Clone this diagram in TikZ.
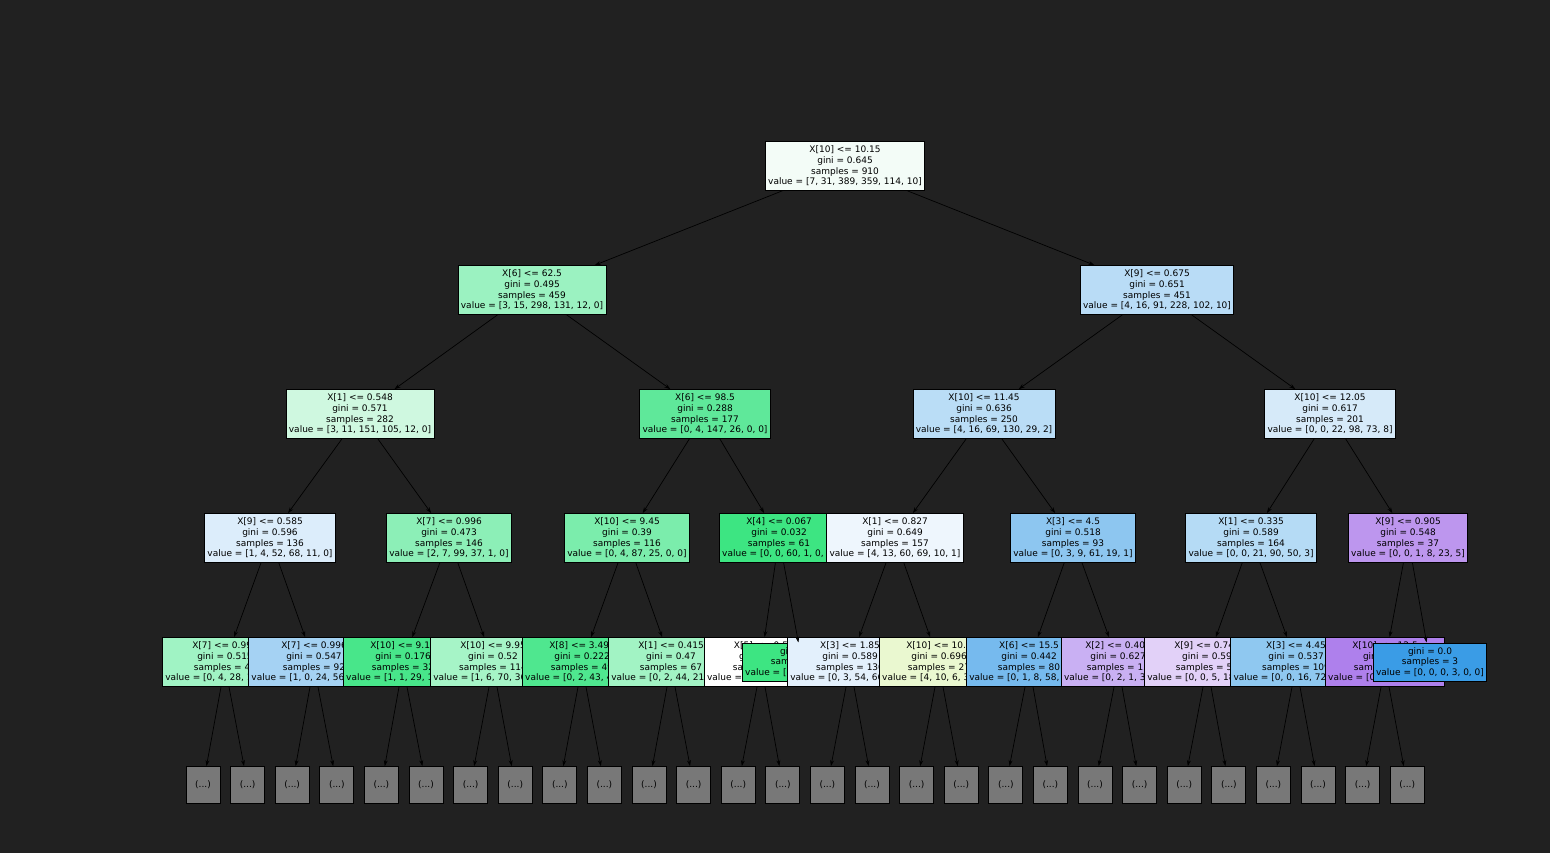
\documentclass[tikz,border=0pt]{standalone}
\usepackage{fontspec}
\setmainfont{DejaVu Sans}
\usetikzlibrary{arrows.meta}
\tikzset{
 tn/.style={draw=black,line width=0.4pt,inner xsep=1.4pt,inner ysep=2.2pt,align=center,font=\fontsize{4.5}{5.35}\selectfont,fill=#1},
 lf/.style={draw=black,line width=0.4pt,fill=lf,minimum width=17pt,minimum height=18.5pt,inner sep=0pt,font=\fontsize{4.5}{5}\selectfont},
 ar/.style={-{Stealth[length=3pt,width=2pt]},line width=0.35pt,black}
}
\definecolor{bg}{HTML}{212121}\definecolor{lf}{HTML}{787878}
\newcommand{\TN}[5]{\node[tn=#4] (#1) at (#2,#3) {#5};}
\begin{document}
\begin{tikzpicture}[x=0.5pt,y=-0.5pt]
\fill[bg] (0,0) rectangle (1550,853);
\useasboundingbox (0,0) rectangle (1550,853);
\definecolor{c0}{HTML}{F3FCF7}
\definecolor{c1}{HTML}{9BF2C1}\definecolor{c2}{HTML}{B9DCF6}
\definecolor{c3}{HTML}{CFF8E0}\definecolor{c4}{HTML}{5FE89A}\definecolor{c5}{HTML}{BADDF6}\definecolor{c6}{HTML}{D6EAF9}
\definecolor{d1}{HTML}{DCEDFB}\definecolor{d2}{HTML}{8CEFB7}\definecolor{d3}{HTML}{7BEDAC}\definecolor{d4}{HTML}{3DE582}
\definecolor{d5}{HTML}{EEF6FD}\definecolor{d6}{HTML}{8DC6F0}\definecolor{d7}{HTML}{B5DBF5}\definecolor{d8}{HTML}{BD96EE}
\definecolor{e1}{HTML}{A0F3C4}\definecolor{e2}{HTML}{A5D2F3}\definecolor{e3}{HTML}{48E68A}\definecolor{e4}{HTML}{A6F4C7}
\definecolor{e5}{HTML}{4FE78F}\definecolor{e6}{HTML}{A2F3C4}\definecolor{e7}{HTML}{FFFFFF}\definecolor{e8}{HTML}{3DE582}
\definecolor{e9}{HTML}{E3F0FC}\definecolor{e10}{HTML}{EAF8D0}\definecolor{e11}{HTML}{76BAEE}\definecolor{e12}{HTML}{C9B0F3}
\definecolor{e13}{HTML}{E2D1F8}\definecolor{e14}{HTML}{8FC8F0}\definecolor{e15}{HTML}{AE80EC}\definecolor{e16}{HTML}{3A9CE6}
% level 0
\TN{r}{845}{166}{c0}{X[10] <= 10.15\\gini = 0.645\\samples = 910\\value = [7, 31, 389, 359, 114, 10]}
% level 1
\TN{a}{532}{290}{c1}{X[6] <= 62.5\\gini = 0.495\\samples = 459\\value = [3, 15, 298, 131, 12, 0]}
\TN{b}{1157}{290}{c2}{X[9] <= 0.675\\gini = 0.651\\samples = 451\\value = [4, 16, 91, 228, 102, 10]}
% level 2
\TN{aa}{360}{414}{c3}{X[1] <= 0.548\\gini = 0.571\\samples = 282\\value = [3, 11, 151, 105, 12, 0]}
\TN{ab}{705}{414}{c4}{X[6] <= 98.5\\gini = 0.288\\samples = 177\\value = [0, 4, 147, 26, 0, 0]}
\TN{ba}{984}{414}{c5}{X[10] <= 11.45\\gini = 0.636\\samples = 250\\value = [4, 16, 69, 130, 29, 2]}
\TN{bb}{1330}{414}{c6}{X[10] <= 12.05\\gini = 0.617\\samples = 201\\value = [0, 0, 22, 98, 73, 8]}
% level 3
\TN{n1}{270}{538}{d1}{X[9] <= 0.585\\gini = 0.596\\samples = 136\\value = [1, 4, 52, 68, 11, 0]}
\TN{n2}{449}{538}{d2}{X[7] <= 0.996\\gini = 0.473\\samples = 146\\value = [2, 7, 99, 37, 1, 0]}
\TN{n3}{627}{538}{d3}{X[10] <= 9.45\\gini = 0.39\\samples = 116\\value = [0, 4, 87, 25, 0, 0]}
\TN{n4}{779}{538}{d4}{X[4] <= 0.067\\gini = 0.032\\samples = 61\\value = [0, 0, 60, 1, 0, 0]}
\TN{n5}{895}{538}{d5}{X[1] <= 0.827\\gini = 0.649\\samples = 157\\value = [4, 13, 60, 69, 10, 1]}
\TN{n6}{1073}{538}{d6}{X[3] <= 4.5\\gini = 0.518\\samples = 93\\value = [0, 3, 9, 61, 19, 1]}
\TN{n7}{1251}{538}{d7}{X[1] <= 0.335\\gini = 0.589\\samples = 164\\value = [0, 0, 21, 90, 50, 3]}
\TN{n8}{1408}{538}{d8}{X[9] <= 0.905\\gini = 0.548\\samples = 37\\value = [0, 0, 1, 8, 23, 5]}
% level 4
\TN{m1}{225}{662}{e1}{X[7] <= 0.995\\gini = 0.515\\samples = 44\\value = [0, 4, 28, 12, 0, 0]}
\TN{m2}{314}{662}{e2}{X[7] <= 0.996\\gini = 0.547\\samples = 92\\value = [1, 0, 24, 56, 11, 0]}
\TN{m3}{403}{662}{e3}{X[10] <= 9.15\\gini = 0.176\\samples = 32\\value = [1, 1, 29, 1, 0, 0]}
\TN{m4}{493}{662}{e4}{X[10] <= 9.95\\gini = 0.52\\samples = 114\\value = [1, 6, 70, 36, 1, 0]}
\TN{m5}{582}{662}{e5}{X[8] <= 3.495\\gini = 0.222\\samples = 49\\value = [0, 2, 43, 4, 0, 0]}
\TN{m6}{671}{662}{e6}{X[1] <= 0.415\\gini = 0.47\\samples = 67\\value = [0, 2, 44, 21, 0, 0]}
\TN{m7}{761}{662}{e7}{X[5] <= 0.5\\gini = 0.5\\samples = 2\\value = [0, 0, 1, 1, 0, 0]}
\TN{m8}{802}{662}{e8}{gini = 0.0\\samples = 59\\value = [0, 0, 59, 0, 0, 0]}
\TN{m9}{850}{662}{e9}{X[3] <= 1.85\\gini = 0.589\\samples = 130\\value = [0, 3, 54, 66, 7, 0]}
\TN{m10}{939}{662}{e10}{X[10] <= 10.5\\gini = 0.696\\samples = 27\\value = [4, 10, 6, 3, 3, 1]}
\TN{m11}{1029}{662}{e11}{X[6] <= 15.5\\gini = 0.442\\samples = 80\\value = [0, 1, 8, 58, 13, 0]}
\TN{m12}{1118}{662}{e12}{X[2] <= 0.405\\gini = 0.627\\samples = 13\\value = [0, 2, 1, 3, 6, 1]}
\TN{m13}{1207}{662}{e13}{X[9] <= 0.745\\gini = 0.59\\samples = 55\\value = [0, 0, 5, 18, 29, 3]}
\TN{m14}{1296}{662}{e14}{X[3] <= 4.45\\gini = 0.537\\samples = 109\\value = [0, 0, 16, 72, 21, 0]}
\TN{m15}{1385}{662}{e15}{X[10] <= 12.5\\gini = 0.5\\samples = 34\\value = [0, 0, 1, 5, 23, 5]}
\TN{m16}{1430}{662}{e16}{gini = 0.0\\samples = 3\\value = [0, 0, 0, 3, 0, 0]}
% edges
\foreach \p/\c in {r/a,r/b,a/aa,a/ab,b/ba,b/bb,aa/n1,aa/n2,ab/n3,ab/n4,ba/n5,ba/n6,bb/n7,bb/n8,
 n1/m1,n1/m2,n2/m3,n2/m4,n3/m5,n3/m6,n4/m7,n4/m8,n5/m9,n5/m10,n6/m11,n6/m12,n7/m13,n7/m14,n8/m15,n8/m16}
 \draw[ar] (\p) -- (\c);
% truncated leaves
\foreach \m [count=\i] in {m1,m2,m3,m4,m5,m6,m7,m9,m10,m11,m12,m13,m14,m15}{
 \pgfmathsetmacro{\xl}{203+(\i-1)*2*44.6}
 \pgfmathsetmacro{\xr}{\xl+44.6}
 \node[lf] (l\i a) at (\xl,785) {(...)};
 \node[lf] (l\i b) at (\xr,785) {(...)};
 \draw[ar] ([xshift=-2pt]\m.south) -- (l\i a);
 \draw[ar] ([xshift=2pt]\m.south) -- (l\i b);
}
\end{tikzpicture}
\end{document}
